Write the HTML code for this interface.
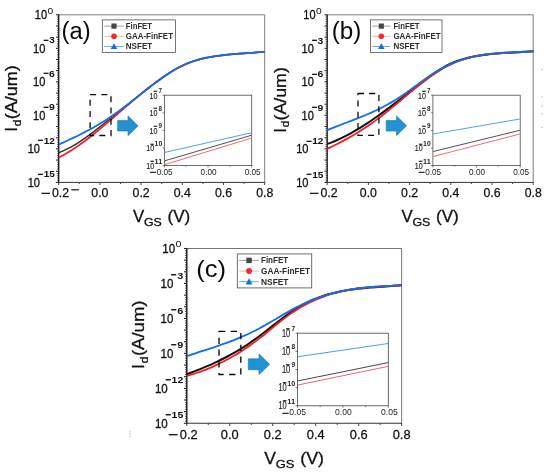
<!DOCTYPE html>
<html><head><meta charset="utf-8"><title>Id-Vgs transfer curves</title>
<style>html,body{margin:0;padding:0;background:#fff}svg{display:block}</style></head>
<body>
<svg width="550" height="474" viewBox="0 0 550 474">
<rect width="550" height="474" fill="#fff"/>
<g transform="translate(58.7,14.8) scale(1.0)" font-family='"Liberation Sans", sans-serif' fill="#111">
<line x1="-2.7" y1="0.00" x2="0" y2="0.00" stroke="#222" stroke-width="1.05"/>
<line x1="-1.7" y1="2.23" x2="0" y2="2.23" stroke="#333" stroke-width="0.8"/>
<line x1="-1.7" y1="4.47" x2="0" y2="4.47" stroke="#333" stroke-width="0.8"/>
<line x1="-1.7" y1="6.70" x2="0" y2="6.70" stroke="#333" stroke-width="0.8"/>
<line x1="-1.7" y1="8.94" x2="0" y2="8.94" stroke="#333" stroke-width="0.8"/>
<line x1="-2.7" y1="11.17" x2="0" y2="11.17" stroke="#222" stroke-width="1.05"/>
<line x1="-1.7" y1="13.41" x2="0" y2="13.41" stroke="#333" stroke-width="0.8"/>
<line x1="-1.7" y1="15.64" x2="0" y2="15.64" stroke="#333" stroke-width="0.8"/>
<line x1="-1.7" y1="17.88" x2="0" y2="17.88" stroke="#333" stroke-width="0.8"/>
<line x1="-1.7" y1="20.11" x2="0" y2="20.11" stroke="#333" stroke-width="0.8"/>
<line x1="-2.7" y1="22.35" x2="0" y2="22.35" stroke="#222" stroke-width="1.05"/>
<line x1="-1.7" y1="24.58" x2="0" y2="24.58" stroke="#333" stroke-width="0.8"/>
<line x1="-1.7" y1="26.82" x2="0" y2="26.82" stroke="#333" stroke-width="0.8"/>
<line x1="-1.7" y1="29.05" x2="0" y2="29.05" stroke="#333" stroke-width="0.8"/>
<line x1="-1.7" y1="31.29" x2="0" y2="31.29" stroke="#333" stroke-width="0.8"/>
<line x1="-2.7" y1="33.52" x2="0" y2="33.52" stroke="#222" stroke-width="1.05"/>
<line x1="-1.7" y1="35.75" x2="0" y2="35.75" stroke="#333" stroke-width="0.8"/>
<line x1="-1.7" y1="37.99" x2="0" y2="37.99" stroke="#333" stroke-width="0.8"/>
<line x1="-1.7" y1="40.22" x2="0" y2="40.22" stroke="#333" stroke-width="0.8"/>
<line x1="-1.7" y1="42.46" x2="0" y2="42.46" stroke="#333" stroke-width="0.8"/>
<line x1="-2.7" y1="44.69" x2="0" y2="44.69" stroke="#222" stroke-width="1.05"/>
<line x1="-1.7" y1="46.93" x2="0" y2="46.93" stroke="#333" stroke-width="0.8"/>
<line x1="-1.7" y1="49.16" x2="0" y2="49.16" stroke="#333" stroke-width="0.8"/>
<line x1="-1.7" y1="51.40" x2="0" y2="51.40" stroke="#333" stroke-width="0.8"/>
<line x1="-1.7" y1="53.63" x2="0" y2="53.63" stroke="#333" stroke-width="0.8"/>
<line x1="-2.7" y1="55.87" x2="0" y2="55.87" stroke="#222" stroke-width="1.05"/>
<line x1="-1.7" y1="58.10" x2="0" y2="58.10" stroke="#333" stroke-width="0.8"/>
<line x1="-1.7" y1="60.34" x2="0" y2="60.34" stroke="#333" stroke-width="0.8"/>
<line x1="-1.7" y1="62.57" x2="0" y2="62.57" stroke="#333" stroke-width="0.8"/>
<line x1="-1.7" y1="64.81" x2="0" y2="64.81" stroke="#333" stroke-width="0.8"/>
<line x1="-2.7" y1="67.04" x2="0" y2="67.04" stroke="#222" stroke-width="1.05"/>
<line x1="-1.7" y1="69.27" x2="0" y2="69.27" stroke="#333" stroke-width="0.8"/>
<line x1="-1.7" y1="71.51" x2="0" y2="71.51" stroke="#333" stroke-width="0.8"/>
<line x1="-1.7" y1="73.74" x2="0" y2="73.74" stroke="#333" stroke-width="0.8"/>
<line x1="-1.7" y1="75.98" x2="0" y2="75.98" stroke="#333" stroke-width="0.8"/>
<line x1="-2.7" y1="78.21" x2="0" y2="78.21" stroke="#222" stroke-width="1.05"/>
<line x1="-1.7" y1="80.45" x2="0" y2="80.45" stroke="#333" stroke-width="0.8"/>
<line x1="-1.7" y1="82.68" x2="0" y2="82.68" stroke="#333" stroke-width="0.8"/>
<line x1="-1.7" y1="84.92" x2="0" y2="84.92" stroke="#333" stroke-width="0.8"/>
<line x1="-1.7" y1="87.15" x2="0" y2="87.15" stroke="#333" stroke-width="0.8"/>
<line x1="-2.7" y1="89.39" x2="0" y2="89.39" stroke="#222" stroke-width="1.05"/>
<line x1="-1.7" y1="91.62" x2="0" y2="91.62" stroke="#333" stroke-width="0.8"/>
<line x1="-1.7" y1="93.86" x2="0" y2="93.86" stroke="#333" stroke-width="0.8"/>
<line x1="-1.7" y1="96.09" x2="0" y2="96.09" stroke="#333" stroke-width="0.8"/>
<line x1="-1.7" y1="98.33" x2="0" y2="98.33" stroke="#333" stroke-width="0.8"/>
<line x1="-2.7" y1="100.56" x2="0" y2="100.56" stroke="#222" stroke-width="1.05"/>
<line x1="-1.7" y1="102.79" x2="0" y2="102.79" stroke="#333" stroke-width="0.8"/>
<line x1="-1.7" y1="105.03" x2="0" y2="105.03" stroke="#333" stroke-width="0.8"/>
<line x1="-1.7" y1="107.26" x2="0" y2="107.26" stroke="#333" stroke-width="0.8"/>
<line x1="-1.7" y1="109.50" x2="0" y2="109.50" stroke="#333" stroke-width="0.8"/>
<line x1="-2.7" y1="111.73" x2="0" y2="111.73" stroke="#222" stroke-width="1.05"/>
<line x1="-1.7" y1="113.97" x2="0" y2="113.97" stroke="#333" stroke-width="0.8"/>
<line x1="-1.7" y1="116.20" x2="0" y2="116.20" stroke="#333" stroke-width="0.8"/>
<line x1="-1.7" y1="118.44" x2="0" y2="118.44" stroke="#333" stroke-width="0.8"/>
<line x1="-1.7" y1="120.67" x2="0" y2="120.67" stroke="#333" stroke-width="0.8"/>
<line x1="-2.7" y1="122.91" x2="0" y2="122.91" stroke="#222" stroke-width="1.05"/>
<line x1="-1.7" y1="125.14" x2="0" y2="125.14" stroke="#333" stroke-width="0.8"/>
<line x1="-1.7" y1="127.38" x2="0" y2="127.38" stroke="#333" stroke-width="0.8"/>
<line x1="-1.7" y1="129.61" x2="0" y2="129.61" stroke="#333" stroke-width="0.8"/>
<line x1="-1.7" y1="131.85" x2="0" y2="131.85" stroke="#333" stroke-width="0.8"/>
<line x1="-2.7" y1="134.08" x2="0" y2="134.08" stroke="#222" stroke-width="1.05"/>
<line x1="-1.7" y1="136.31" x2="0" y2="136.31" stroke="#333" stroke-width="0.8"/>
<line x1="-1.7" y1="138.55" x2="0" y2="138.55" stroke="#333" stroke-width="0.8"/>
<line x1="-1.7" y1="140.78" x2="0" y2="140.78" stroke="#333" stroke-width="0.8"/>
<line x1="-1.7" y1="143.02" x2="0" y2="143.02" stroke="#333" stroke-width="0.8"/>
<line x1="-2.7" y1="145.25" x2="0" y2="145.25" stroke="#222" stroke-width="1.05"/>
<line x1="-1.7" y1="147.49" x2="0" y2="147.49" stroke="#333" stroke-width="0.8"/>
<line x1="-1.7" y1="149.72" x2="0" y2="149.72" stroke="#333" stroke-width="0.8"/>
<line x1="-1.7" y1="151.96" x2="0" y2="151.96" stroke="#333" stroke-width="0.8"/>
<line x1="-1.7" y1="154.19" x2="0" y2="154.19" stroke="#333" stroke-width="0.8"/>
<line x1="-2.7" y1="156.43" x2="0" y2="156.43" stroke="#222" stroke-width="1.05"/>
<line x1="-1.7" y1="158.66" x2="0" y2="158.66" stroke="#333" stroke-width="0.8"/>
<line x1="-1.7" y1="160.90" x2="0" y2="160.90" stroke="#333" stroke-width="0.8"/>
<line x1="-1.7" y1="163.13" x2="0" y2="163.13" stroke="#333" stroke-width="0.8"/>
<line x1="-1.7" y1="165.37" x2="0" y2="165.37" stroke="#333" stroke-width="0.8"/>
<line x1="-2.7" y1="167.60" x2="0" y2="167.60" stroke="#222" stroke-width="1.05"/>
<line x1="0.00" y1="167.6" x2="0.00" y2="170.2" stroke="#333" stroke-width="0.9"/>
<line x1="20.60" y1="167.6" x2="20.60" y2="169.2" stroke="#333" stroke-width="0.9"/>
<line x1="41.20" y1="167.6" x2="41.20" y2="170.2" stroke="#333" stroke-width="0.9"/>
<line x1="61.80" y1="167.6" x2="61.80" y2="169.2" stroke="#333" stroke-width="0.9"/>
<line x1="82.40" y1="167.6" x2="82.40" y2="170.2" stroke="#333" stroke-width="0.9"/>
<line x1="103.00" y1="167.6" x2="103.00" y2="169.2" stroke="#333" stroke-width="0.9"/>
<line x1="123.60" y1="167.6" x2="123.60" y2="170.2" stroke="#333" stroke-width="0.9"/>
<line x1="144.20" y1="167.6" x2="144.20" y2="169.2" stroke="#333" stroke-width="0.9"/>
<line x1="164.80" y1="167.6" x2="164.80" y2="170.2" stroke="#333" stroke-width="0.9"/>
<line x1="185.40" y1="167.6" x2="185.40" y2="169.2" stroke="#333" stroke-width="0.9"/>
<line x1="206.00" y1="167.6" x2="206.00" y2="170.2" stroke="#333" stroke-width="0.9"/>
<path d="M0 0 H206.0 V167.6" fill="none" stroke="#5a5a5a" stroke-width="0.8"/>
<path d="M0 -0.4 V168.1" fill="none" stroke="#222" stroke-width="1.4"/>
<path d="M-0.7 167.6 H206.4" fill="none" stroke="#333" stroke-width="1.0"/>
<path d="M0.00 137.92 C0.84 137.58 3.35 136.61 5.02 135.85 C6.70 135.10 8.37 134.27 10.05 133.39 C11.72 132.51 13.40 131.57 15.07 130.58 C16.75 129.59 18.42 128.55 20.10 127.47 C21.77 126.39 23.45 125.26 25.12 124.10 C26.80 122.94 28.47 121.74 30.15 120.52 C31.82 119.30 33.50 118.04 35.17 116.77 C36.85 115.50 38.52 114.21 40.20 112.90 C41.87 111.60 43.54 110.28 45.22 108.96 C46.89 107.64 48.57 106.30 50.24 104.97 C51.92 103.63 53.59 102.28 55.27 100.94 C56.94 99.59 58.62 98.24 60.29 96.88 C61.97 95.53 63.64 94.17 65.32 92.82 C66.99 91.46 68.67 90.11 70.34 88.76 C72.02 87.41 73.69 86.05 75.37 84.71 C77.04 83.37 78.72 82.03 80.39 80.70 C82.07 79.37 83.74 78.04 85.41 76.72 C87.09 75.41 88.76 74.10 90.44 72.81 C92.11 71.52 93.79 70.23 95.46 68.96 C97.14 67.70 98.81 66.45 100.49 65.23 C102.16 64.01 103.84 62.81 105.51 61.65 C107.19 60.49 108.86 59.35 110.54 58.27 C112.21 57.19 113.89 56.14 115.56 55.15 C117.24 54.16 118.91 53.21 120.59 52.33 C122.26 51.45 123.93 50.62 125.61 49.87 C127.28 49.11 128.96 48.42 130.63 47.79 C132.31 47.17 133.98 46.61 135.66 46.09 C137.33 45.58 139.01 45.12 140.68 44.70 C142.36 44.28 144.03 43.90 145.71 43.55 C147.38 43.20 149.06 42.88 150.73 42.58 C152.41 42.28 154.08 42.00 155.76 41.73 C157.43 41.47 159.11 41.22 160.78 40.99 C162.46 40.76 164.13 40.54 165.80 40.34 C167.48 40.13 169.15 39.94 170.83 39.76 C172.50 39.59 174.18 39.42 175.85 39.26 C177.53 39.10 179.20 38.96 180.88 38.81 C182.55 38.67 184.23 38.54 185.90 38.41 C187.58 38.29 189.25 38.17 190.93 38.05 C192.60 37.93 194.28 37.82 195.95 37.70 C197.63 37.59 199.30 37.48 200.98 37.37 C202.65 37.26 205.16 37.10 206.00 37.04" fill="none" stroke="#333" stroke-width="1.5" stroke-linecap="butt"/>
<path d="M0.00 142.80 C0.84 142.35 3.35 141.07 5.02 140.14 C6.70 139.21 8.37 138.22 10.05 137.20 C11.72 136.18 13.40 135.11 15.07 134.01 C16.75 132.91 18.42 131.77 20.10 130.59 C21.77 129.42 23.45 128.21 25.12 126.97 C26.80 125.73 28.47 124.46 30.15 123.16 C31.82 121.87 33.50 120.54 35.17 119.20 C36.85 117.86 38.52 116.49 40.20 115.11 C41.87 113.73 43.54 112.32 45.22 110.91 C46.89 109.50 48.57 108.07 50.24 106.63 C51.92 105.19 53.59 103.74 55.27 102.29 C56.94 100.84 58.62 99.38 60.29 97.92 C61.97 96.47 63.64 95.00 65.32 93.55 C66.99 92.09 68.67 90.63 70.34 89.19 C72.02 87.74 73.69 86.30 75.37 84.87 C77.04 83.44 78.72 82.02 80.39 80.62 C82.07 79.21 83.74 77.82 85.41 76.46 C87.09 75.09 88.76 73.74 90.44 72.42 C92.11 71.09 93.79 69.79 95.46 68.53 C97.14 67.26 98.81 66.02 100.49 64.82 C102.16 63.62 103.84 62.45 105.51 61.33 C107.19 60.21 108.86 59.12 110.54 58.08 C112.21 57.05 113.89 56.05 115.56 55.11 C117.24 54.17 118.91 53.28 120.59 52.44 C122.26 51.60 123.93 50.81 125.61 50.07 C127.28 49.32 128.96 48.63 130.63 47.98 C132.31 47.33 133.98 46.73 135.66 46.17 C137.33 45.61 139.01 45.10 140.68 44.63 C142.36 44.16 144.03 43.73 145.71 43.33 C147.38 42.94 149.06 42.59 150.73 42.26 C152.41 41.94 154.08 41.65 155.76 41.39 C157.43 41.13 159.11 40.90 160.78 40.68 C162.46 40.47 164.13 40.28 165.80 40.11 C167.48 39.94 169.15 39.79 170.83 39.65 C172.50 39.51 174.18 39.38 175.85 39.26 C177.53 39.14 179.20 39.03 180.88 38.92 C182.55 38.82 184.23 38.71 185.90 38.61 C187.58 38.50 189.25 38.39 190.93 38.28 C192.60 38.16 194.28 38.05 195.95 37.91 C197.63 37.78 199.30 37.64 200.98 37.47 C202.65 37.31 205.16 37.03 206.00 36.94" fill="none" stroke="#f01f24" stroke-width="1.7" stroke-linecap="butt"/>
<path d="M0.00 129.77 C0.84 129.39 3.35 128.27 5.02 127.51 C6.70 126.75 8.37 125.99 10.05 125.21 C11.72 124.43 13.40 123.64 15.07 122.83 C16.75 122.03 18.42 121.22 20.10 120.38 C21.77 119.55 23.45 118.70 25.12 117.84 C26.80 116.97 28.47 116.09 30.15 115.18 C31.82 114.28 33.50 113.35 35.17 112.40 C36.85 111.45 38.52 110.48 40.20 109.48 C41.87 108.48 43.54 107.46 45.22 106.41 C46.89 105.35 48.57 104.28 50.24 103.16 C51.92 102.05 53.59 100.91 55.27 99.74 C56.94 98.57 58.62 97.37 60.29 96.15 C61.97 94.93 63.64 93.68 65.32 92.42 C66.99 91.16 68.67 89.88 70.34 88.59 C72.02 87.30 73.69 86.00 75.37 84.69 C77.04 83.39 78.72 82.07 80.39 80.76 C82.07 79.45 83.74 78.13 85.41 76.82 C87.09 75.52 88.76 74.21 90.44 72.92 C92.11 71.63 93.79 70.35 95.46 69.09 C97.14 67.83 98.81 66.58 100.49 65.36 C102.16 64.14 103.84 62.94 105.51 61.79 C107.19 60.63 108.86 59.50 110.54 58.41 C112.21 57.33 113.89 56.28 115.56 55.28 C117.24 54.29 118.91 53.34 120.59 52.45 C122.26 51.56 123.93 50.72 125.61 49.95 C127.28 49.18 128.96 48.48 130.63 47.83 C132.31 47.18 133.98 46.61 135.66 46.07 C137.33 45.53 139.01 45.06 140.68 44.62 C142.36 44.18 144.03 43.78 145.71 43.42 C147.38 43.05 149.06 42.73 150.73 42.42 C152.41 42.12 154.08 41.84 155.76 41.58 C157.43 41.32 159.11 41.09 160.78 40.87 C162.46 40.65 164.13 40.45 165.80 40.26 C167.48 40.07 169.15 39.91 170.83 39.74 C172.50 39.58 174.18 39.44 175.85 39.30 C177.53 39.16 179.20 39.03 180.88 38.90 C182.55 38.77 184.23 38.65 185.90 38.53 C187.58 38.41 189.25 38.30 190.93 38.18 C192.60 38.06 194.28 37.94 195.95 37.81 C197.63 37.68 199.30 37.55 200.98 37.41 C202.65 37.27 205.16 37.04 206.00 36.97" fill="none" stroke="#0f6fe6" stroke-width="1.8" stroke-linecap="butt"/>
<rect x="31.4" y="79.8" width="20.9" height="40.9" fill="none" stroke="#0a0a0a" stroke-width="1.3" stroke-dasharray="6 5.25" stroke-dashoffset="0"/>
<path d="M59.0 105.8 H69.3 V101.1 L79.4 111.0 L69.3 120.9 V116.2 H59.0 Z" fill="#2492d1" stroke="#1c7fba" stroke-width="0.7"/>
<rect x="105.7" y="80.4" width="87.30" height="70.40" fill="#fff" stroke="#4a4a4a" stroke-width="0.8"/>
<line x1="103.9" y1="80.40" x2="105.7" y2="80.40" stroke="#444" stroke-width="0.7"/>
<text x="90.80" y="83.80" font-size="9.6" textLength="7.9" lengthAdjust="spacingAndGlyphs" fill="#1a1a1a" stroke="#1a1a1a" stroke-width="0.15">10</text>
<text x="95.03" y="78.06" font-size="5.86" fill="#1a1a1a" stroke="#1a1a1a" stroke-width="0.64">−</text>
<text x="99.90" y="78.40" font-size="7.6" font-weight="bold" textLength="3.5" lengthAdjust="spacingAndGlyphs" fill="#222">7</text>
<line x1="103.9" y1="98.00" x2="105.7" y2="98.00" stroke="#444" stroke-width="0.7"/>
<text x="90.80" y="101.40" font-size="9.6" textLength="7.9" lengthAdjust="spacingAndGlyphs" fill="#1a1a1a" stroke="#1a1a1a" stroke-width="0.15">10</text>
<text x="95.03" y="95.66" font-size="5.86" fill="#1a1a1a" stroke="#1a1a1a" stroke-width="0.64">−</text>
<text x="99.90" y="96.00" font-size="7.6" font-weight="bold" textLength="3.5" lengthAdjust="spacingAndGlyphs" fill="#222">8</text>
<line x1="103.9" y1="115.60" x2="105.7" y2="115.60" stroke="#444" stroke-width="0.7"/>
<text x="90.80" y="119.00" font-size="9.6" textLength="7.9" lengthAdjust="spacingAndGlyphs" fill="#1a1a1a" stroke="#1a1a1a" stroke-width="0.15">10</text>
<text x="95.03" y="113.26" font-size="5.86" fill="#1a1a1a" stroke="#1a1a1a" stroke-width="0.64">−</text>
<text x="99.90" y="113.60" font-size="7.6" font-weight="bold" textLength="3.5" lengthAdjust="spacingAndGlyphs" fill="#222">9</text>
<line x1="103.9" y1="133.20" x2="105.7" y2="133.20" stroke="#444" stroke-width="0.7"/>
<text x="87.50" y="136.60" font-size="9.6" textLength="7.9" lengthAdjust="spacingAndGlyphs" fill="#1a1a1a" stroke="#1a1a1a" stroke-width="0.15">10</text>
<text x="91.73" y="130.86" font-size="5.86" fill="#1a1a1a" stroke="#1a1a1a" stroke-width="0.64">−</text>
<text x="95.90" y="131.20" font-size="7.6" font-weight="bold" textLength="7.6" lengthAdjust="spacingAndGlyphs" fill="#222">10</text>
<line x1="103.9" y1="150.80" x2="105.7" y2="150.80" stroke="#444" stroke-width="0.7"/>
<text x="87.50" y="154.20" font-size="9.6" textLength="7.9" lengthAdjust="spacingAndGlyphs" fill="#1a1a1a" stroke="#1a1a1a" stroke-width="0.15">10</text>
<text x="91.73" y="148.46" font-size="5.86" fill="#1a1a1a" stroke="#1a1a1a" stroke-width="0.64">−</text>
<text x="95.90" y="148.80" font-size="7.6" font-weight="bold" textLength="7.6" lengthAdjust="spacingAndGlyphs" fill="#222">11</text>
<line x1="105.70" y1="150.8" x2="105.70" y2="152.60000000000002" stroke="#444" stroke-width="0.7"/>
<line x1="127.53" y1="150.8" x2="127.53" y2="151.9" stroke="#444" stroke-width="0.7"/>
<line x1="149.35" y1="150.8" x2="149.35" y2="152.60000000000002" stroke="#444" stroke-width="0.7"/>
<line x1="171.18" y1="150.8" x2="171.18" y2="151.9" stroke="#444" stroke-width="0.7"/>
<line x1="193.00" y1="150.8" x2="193.00" y2="152.60000000000002" stroke="#444" stroke-width="0.7"/>
<text x="113.90" y="159.80" font-size="8.2" text-anchor="end" fill="#222">0.05</text>
<text x="91.13" y="161.21" font-size="10.77" fill="#222" stroke="#222" stroke-width="0.55">−</text>
<text x="149.85" y="159.80" font-size="8.2" text-anchor="middle" fill="#222">0.00</text>
<text x="194.00" y="159.80" font-size="8.2" text-anchor="middle" fill="#222">0.05</text>
<line x1="106.0" y1="149.80" x2="192.7" y2="123.30" stroke="#f05a5a" stroke-width="0.9"/>
<line x1="106.0" y1="146.00" x2="192.7" y2="120.50" stroke="#3c3c3c" stroke-width="0.9"/>
<line x1="106.0" y1="137.60" x2="192.7" y2="118.00" stroke="#3a97f0" stroke-width="0.9"/>
<rect x="43.6" y="5.1" width="73.3" height="32.6" fill="#fff" stroke="#3a3a3a" stroke-width="0.7"/>
<line x1="45.50" y1="11.30" x2="65.10" y2="11.30" stroke="#8a8a8a" stroke-width="0.8"/>
<rect x="52.70" y="8.70" width="5.2" height="5.2" fill="#464646"/>
<text x="67.10" y="14.20" font-size="8.2" font-weight="bold" fill="#2c2c2c" textLength="26.2" lengthAdjust="spacingAndGlyphs">FinFET</text>
<line x1="45.50" y1="21.50" x2="65.10" y2="21.50" stroke="#f59a9a" stroke-width="0.8"/>
<circle cx="55.30" cy="21.50" r="2.8" fill="#f5282d"/>
<text x="67.10" y="24.40" font-size="8.2" font-weight="bold" fill="#2c2c2c" textLength="47.2" lengthAdjust="spacingAndGlyphs">GAA-FinFET</text>
<line x1="45.50" y1="31.70" x2="65.10" y2="31.70" stroke="#3f9cf2" stroke-width="0.8"/>
<path d="M52.00 34.30 L58.60 34.30 L55.30 28.40 Z" fill="#126fe3"/>
<text x="67.10" y="34.60" font-size="8.2" font-weight="bold" fill="#2c2c2c" textLength="26.4" lengthAdjust="spacingAndGlyphs">NSFET</text>
<text x="2.9" y="24.0" font-size="23.3" textLength="29.0" lengthAdjust="spacingAndGlyphs" font-family='"Liberation Sans", sans-serif' fill="#0a0a0a">(a)</text>
<text x="-11.30" y="-1.10" font-size="8.4" textLength="5.7" lengthAdjust="spacingAndGlyphs">0</text>
<text x="-11.60" y="4.20" font-size="12.1" textLength="12.3" lengthAdjust="spacingAndGlyphs" text-anchor="end" stroke="#111" stroke-width="0.3">10</text>
<text x="-9.60" y="28.22" font-size="8.9" font-weight="bold" textLength="5.80" lengthAdjust="spacingAndGlyphs">3</text>
<text x="-15.52" y="27.89" font-size="8.75" fill="#111" stroke="#111" stroke-width="0.64">−</text>
<text x="-13.30" y="37.72" font-size="12.1" textLength="12.3" lengthAdjust="spacingAndGlyphs" text-anchor="end" stroke="#111" stroke-width="0.3">10</text>
<text x="-9.60" y="61.74" font-size="8.9" font-weight="bold" textLength="5.80" lengthAdjust="spacingAndGlyphs">6</text>
<text x="-15.52" y="61.41" font-size="8.75" fill="#111" stroke="#111" stroke-width="0.64">−</text>
<text x="-13.30" y="71.24" font-size="12.1" textLength="12.3" lengthAdjust="spacingAndGlyphs" text-anchor="end" stroke="#111" stroke-width="0.3">10</text>
<text x="-9.60" y="95.26" font-size="8.9" font-weight="bold" textLength="5.80" lengthAdjust="spacingAndGlyphs">9</text>
<text x="-15.52" y="94.93" font-size="8.75" fill="#111" stroke="#111" stroke-width="0.64">−</text>
<text x="-13.30" y="104.76" font-size="12.1" textLength="12.3" lengthAdjust="spacingAndGlyphs" text-anchor="end" stroke="#111" stroke-width="0.3">10</text>
<text x="-15.00" y="128.78" font-size="8.9" font-weight="bold" textLength="11.20" lengthAdjust="spacingAndGlyphs">12</text>
<text x="-20.92" y="128.45" font-size="8.75" fill="#111" stroke="#111" stroke-width="0.64">−</text>
<text x="-18.70" y="138.28" font-size="12.1" textLength="12.3" lengthAdjust="spacingAndGlyphs" text-anchor="end" stroke="#111" stroke-width="0.3">10</text>
<text x="-15.00" y="162.30" font-size="8.9" font-weight="bold" textLength="11.20" lengthAdjust="spacingAndGlyphs">15</text>
<text x="-20.92" y="161.97" font-size="8.75" fill="#111" stroke="#111" stroke-width="0.64">−</text>
<text x="-18.70" y="171.80" font-size="12.1" textLength="12.3" lengthAdjust="spacingAndGlyphs" text-anchor="end" stroke="#111" stroke-width="0.3">10</text>
<text x="10.40" y="182.50" font-size="12.3" text-anchor="end" stroke="#111" stroke-width="0.25">0.2</text>
<text x="-18.29" y="184.44" font-size="17.73" fill="#111">−</text>
<line x1="12.60" y1="175.00" x2="20.20" y2="175.00" stroke="#111" stroke-width="1.15"/>
<text x="41.20" y="182.50" font-size="12.3" text-anchor="middle" stroke="#111" stroke-width="0.25">0.0</text>
<text x="82.40" y="182.50" font-size="12.3" text-anchor="middle" stroke="#111" stroke-width="0.25">0.2</text>
<text x="123.60" y="182.50" font-size="12.3" text-anchor="middle" stroke="#111" stroke-width="0.25">0.4</text>
<text x="164.80" y="182.50" font-size="12.3" text-anchor="middle" stroke="#111" stroke-width="0.25">0.6</text>
<text x="206.00" y="182.50" font-size="12.3" text-anchor="middle" stroke="#111" stroke-width="0.25">0.8</text>
<text x="74.2" y="207.20" stroke="#111" stroke-width="0.3" font-size="16.4" textLength="11.2" lengthAdjust="spacingAndGlyphs">V</text>
<text x="85.2" y="211.40" stroke="#111" stroke-width="0.3" font-size="11" textLength="17.9" lengthAdjust="spacingAndGlyphs">GS</text>
<text x="108.8" y="207.20" stroke="#111" stroke-width="0.3" font-size="16.4" textLength="22.8" lengthAdjust="spacingAndGlyphs">(V)</text>
<g transform="translate(-41.4,116.8) rotate(-90) scale(0.99)" stroke="#111" stroke-width="0.3"><text x="0" y="0" font-size="17" textLength="4.4" lengthAdjust="spacingAndGlyphs">I</text><text x="5.4" y="3.6" font-size="10.6" textLength="6.6" lengthAdjust="spacingAndGlyphs">d</text><text x="12.4" y="0" font-size="17" textLength="54.6" lengthAdjust="spacingAndGlyphs">(A/um)</text></g>
</g>
<g transform="translate(327.2,14.8) scale(1.0)" font-family='"Liberation Sans", sans-serif' fill="#111">
<line x1="-2.7" y1="0.00" x2="0" y2="0.00" stroke="#222" stroke-width="1.05"/>
<line x1="-1.7" y1="2.23" x2="0" y2="2.23" stroke="#333" stroke-width="0.8"/>
<line x1="-1.7" y1="4.47" x2="0" y2="4.47" stroke="#333" stroke-width="0.8"/>
<line x1="-1.7" y1="6.70" x2="0" y2="6.70" stroke="#333" stroke-width="0.8"/>
<line x1="-1.7" y1="8.94" x2="0" y2="8.94" stroke="#333" stroke-width="0.8"/>
<line x1="-2.7" y1="11.17" x2="0" y2="11.17" stroke="#222" stroke-width="1.05"/>
<line x1="-1.7" y1="13.41" x2="0" y2="13.41" stroke="#333" stroke-width="0.8"/>
<line x1="-1.7" y1="15.64" x2="0" y2="15.64" stroke="#333" stroke-width="0.8"/>
<line x1="-1.7" y1="17.88" x2="0" y2="17.88" stroke="#333" stroke-width="0.8"/>
<line x1="-1.7" y1="20.11" x2="0" y2="20.11" stroke="#333" stroke-width="0.8"/>
<line x1="-2.7" y1="22.35" x2="0" y2="22.35" stroke="#222" stroke-width="1.05"/>
<line x1="-1.7" y1="24.58" x2="0" y2="24.58" stroke="#333" stroke-width="0.8"/>
<line x1="-1.7" y1="26.82" x2="0" y2="26.82" stroke="#333" stroke-width="0.8"/>
<line x1="-1.7" y1="29.05" x2="0" y2="29.05" stroke="#333" stroke-width="0.8"/>
<line x1="-1.7" y1="31.29" x2="0" y2="31.29" stroke="#333" stroke-width="0.8"/>
<line x1="-2.7" y1="33.52" x2="0" y2="33.52" stroke="#222" stroke-width="1.05"/>
<line x1="-1.7" y1="35.75" x2="0" y2="35.75" stroke="#333" stroke-width="0.8"/>
<line x1="-1.7" y1="37.99" x2="0" y2="37.99" stroke="#333" stroke-width="0.8"/>
<line x1="-1.7" y1="40.22" x2="0" y2="40.22" stroke="#333" stroke-width="0.8"/>
<line x1="-1.7" y1="42.46" x2="0" y2="42.46" stroke="#333" stroke-width="0.8"/>
<line x1="-2.7" y1="44.69" x2="0" y2="44.69" stroke="#222" stroke-width="1.05"/>
<line x1="-1.7" y1="46.93" x2="0" y2="46.93" stroke="#333" stroke-width="0.8"/>
<line x1="-1.7" y1="49.16" x2="0" y2="49.16" stroke="#333" stroke-width="0.8"/>
<line x1="-1.7" y1="51.40" x2="0" y2="51.40" stroke="#333" stroke-width="0.8"/>
<line x1="-1.7" y1="53.63" x2="0" y2="53.63" stroke="#333" stroke-width="0.8"/>
<line x1="-2.7" y1="55.87" x2="0" y2="55.87" stroke="#222" stroke-width="1.05"/>
<line x1="-1.7" y1="58.10" x2="0" y2="58.10" stroke="#333" stroke-width="0.8"/>
<line x1="-1.7" y1="60.34" x2="0" y2="60.34" stroke="#333" stroke-width="0.8"/>
<line x1="-1.7" y1="62.57" x2="0" y2="62.57" stroke="#333" stroke-width="0.8"/>
<line x1="-1.7" y1="64.81" x2="0" y2="64.81" stroke="#333" stroke-width="0.8"/>
<line x1="-2.7" y1="67.04" x2="0" y2="67.04" stroke="#222" stroke-width="1.05"/>
<line x1="-1.7" y1="69.27" x2="0" y2="69.27" stroke="#333" stroke-width="0.8"/>
<line x1="-1.7" y1="71.51" x2="0" y2="71.51" stroke="#333" stroke-width="0.8"/>
<line x1="-1.7" y1="73.74" x2="0" y2="73.74" stroke="#333" stroke-width="0.8"/>
<line x1="-1.7" y1="75.98" x2="0" y2="75.98" stroke="#333" stroke-width="0.8"/>
<line x1="-2.7" y1="78.21" x2="0" y2="78.21" stroke="#222" stroke-width="1.05"/>
<line x1="-1.7" y1="80.45" x2="0" y2="80.45" stroke="#333" stroke-width="0.8"/>
<line x1="-1.7" y1="82.68" x2="0" y2="82.68" stroke="#333" stroke-width="0.8"/>
<line x1="-1.7" y1="84.92" x2="0" y2="84.92" stroke="#333" stroke-width="0.8"/>
<line x1="-1.7" y1="87.15" x2="0" y2="87.15" stroke="#333" stroke-width="0.8"/>
<line x1="-2.7" y1="89.39" x2="0" y2="89.39" stroke="#222" stroke-width="1.05"/>
<line x1="-1.7" y1="91.62" x2="0" y2="91.62" stroke="#333" stroke-width="0.8"/>
<line x1="-1.7" y1="93.86" x2="0" y2="93.86" stroke="#333" stroke-width="0.8"/>
<line x1="-1.7" y1="96.09" x2="0" y2="96.09" stroke="#333" stroke-width="0.8"/>
<line x1="-1.7" y1="98.33" x2="0" y2="98.33" stroke="#333" stroke-width="0.8"/>
<line x1="-2.7" y1="100.56" x2="0" y2="100.56" stroke="#222" stroke-width="1.05"/>
<line x1="-1.7" y1="102.79" x2="0" y2="102.79" stroke="#333" stroke-width="0.8"/>
<line x1="-1.7" y1="105.03" x2="0" y2="105.03" stroke="#333" stroke-width="0.8"/>
<line x1="-1.7" y1="107.26" x2="0" y2="107.26" stroke="#333" stroke-width="0.8"/>
<line x1="-1.7" y1="109.50" x2="0" y2="109.50" stroke="#333" stroke-width="0.8"/>
<line x1="-2.7" y1="111.73" x2="0" y2="111.73" stroke="#222" stroke-width="1.05"/>
<line x1="-1.7" y1="113.97" x2="0" y2="113.97" stroke="#333" stroke-width="0.8"/>
<line x1="-1.7" y1="116.20" x2="0" y2="116.20" stroke="#333" stroke-width="0.8"/>
<line x1="-1.7" y1="118.44" x2="0" y2="118.44" stroke="#333" stroke-width="0.8"/>
<line x1="-1.7" y1="120.67" x2="0" y2="120.67" stroke="#333" stroke-width="0.8"/>
<line x1="-2.7" y1="122.91" x2="0" y2="122.91" stroke="#222" stroke-width="1.05"/>
<line x1="-1.7" y1="125.14" x2="0" y2="125.14" stroke="#333" stroke-width="0.8"/>
<line x1="-1.7" y1="127.38" x2="0" y2="127.38" stroke="#333" stroke-width="0.8"/>
<line x1="-1.7" y1="129.61" x2="0" y2="129.61" stroke="#333" stroke-width="0.8"/>
<line x1="-1.7" y1="131.85" x2="0" y2="131.85" stroke="#333" stroke-width="0.8"/>
<line x1="-2.7" y1="134.08" x2="0" y2="134.08" stroke="#222" stroke-width="1.05"/>
<line x1="-1.7" y1="136.31" x2="0" y2="136.31" stroke="#333" stroke-width="0.8"/>
<line x1="-1.7" y1="138.55" x2="0" y2="138.55" stroke="#333" stroke-width="0.8"/>
<line x1="-1.7" y1="140.78" x2="0" y2="140.78" stroke="#333" stroke-width="0.8"/>
<line x1="-1.7" y1="143.02" x2="0" y2="143.02" stroke="#333" stroke-width="0.8"/>
<line x1="-2.7" y1="145.25" x2="0" y2="145.25" stroke="#222" stroke-width="1.05"/>
<line x1="-1.7" y1="147.49" x2="0" y2="147.49" stroke="#333" stroke-width="0.8"/>
<line x1="-1.7" y1="149.72" x2="0" y2="149.72" stroke="#333" stroke-width="0.8"/>
<line x1="-1.7" y1="151.96" x2="0" y2="151.96" stroke="#333" stroke-width="0.8"/>
<line x1="-1.7" y1="154.19" x2="0" y2="154.19" stroke="#333" stroke-width="0.8"/>
<line x1="-2.7" y1="156.43" x2="0" y2="156.43" stroke="#222" stroke-width="1.05"/>
<line x1="-1.7" y1="158.66" x2="0" y2="158.66" stroke="#333" stroke-width="0.8"/>
<line x1="-1.7" y1="160.90" x2="0" y2="160.90" stroke="#333" stroke-width="0.8"/>
<line x1="-1.7" y1="163.13" x2="0" y2="163.13" stroke="#333" stroke-width="0.8"/>
<line x1="-1.7" y1="165.37" x2="0" y2="165.37" stroke="#333" stroke-width="0.8"/>
<line x1="-2.7" y1="167.60" x2="0" y2="167.60" stroke="#222" stroke-width="1.05"/>
<line x1="0.00" y1="167.6" x2="0.00" y2="170.2" stroke="#333" stroke-width="0.9"/>
<line x1="20.60" y1="167.6" x2="20.60" y2="169.2" stroke="#333" stroke-width="0.9"/>
<line x1="41.20" y1="167.6" x2="41.20" y2="170.2" stroke="#333" stroke-width="0.9"/>
<line x1="61.80" y1="167.6" x2="61.80" y2="169.2" stroke="#333" stroke-width="0.9"/>
<line x1="82.40" y1="167.6" x2="82.40" y2="170.2" stroke="#333" stroke-width="0.9"/>
<line x1="103.00" y1="167.6" x2="103.00" y2="169.2" stroke="#333" stroke-width="0.9"/>
<line x1="123.60" y1="167.6" x2="123.60" y2="170.2" stroke="#333" stroke-width="0.9"/>
<line x1="144.20" y1="167.6" x2="144.20" y2="169.2" stroke="#333" stroke-width="0.9"/>
<line x1="164.80" y1="167.6" x2="164.80" y2="170.2" stroke="#333" stroke-width="0.9"/>
<line x1="185.40" y1="167.6" x2="185.40" y2="169.2" stroke="#333" stroke-width="0.9"/>
<line x1="206.00" y1="167.6" x2="206.00" y2="170.2" stroke="#333" stroke-width="0.9"/>
<path d="M0 0 H206.0 V167.6" fill="none" stroke="#5a5a5a" stroke-width="0.8"/>
<path d="M0 -0.4 V168.1" fill="none" stroke="#222" stroke-width="1.4"/>
<path d="M-0.7 167.6 H206.4" fill="none" stroke="#333" stroke-width="1.0"/>
<path d="M0.00 129.17 C0.84 128.86 3.35 127.96 5.03 127.30 C6.71 126.64 8.38 125.93 10.06 125.19 C11.73 124.45 13.41 123.67 15.09 122.86 C16.76 122.04 18.44 121.19 20.12 120.31 C21.79 119.43 23.47 118.51 25.15 117.56 C26.82 116.62 28.50 115.64 30.18 114.64 C31.85 113.63 33.53 112.60 35.20 111.54 C36.88 110.49 38.56 109.40 40.23 108.30 C41.91 107.20 43.59 106.07 45.26 104.92 C46.94 103.78 48.62 102.61 50.29 101.42 C51.97 100.24 53.65 99.04 55.32 97.82 C57.00 96.60 58.67 95.37 60.35 94.13 C62.03 92.88 63.70 91.63 65.38 90.36 C67.06 89.10 68.73 87.82 70.41 86.54 C72.09 85.25 73.76 83.96 75.44 82.67 C77.12 81.37 78.79 80.07 80.47 78.77 C82.14 77.47 83.82 76.16 85.50 74.86 C87.17 73.56 88.85 72.25 90.53 70.95 C92.20 69.65 93.88 68.35 95.56 67.06 C97.23 65.78 98.91 64.49 100.59 63.24 C102.26 61.99 103.94 60.76 105.61 59.57 C107.29 58.38 108.97 57.21 110.64 56.11 C112.32 55.00 114.00 53.94 115.67 52.94 C117.35 51.95 119.03 51.00 120.70 50.14 C122.38 49.29 124.06 48.50 125.73 47.79 C127.41 47.07 129.08 46.44 130.76 45.86 C132.44 45.27 134.11 44.76 135.79 44.29 C137.47 43.81 139.14 43.40 140.82 43.01 C142.50 42.61 144.17 42.27 145.85 41.94 C147.53 41.61 149.20 41.32 150.88 41.04 C152.55 40.76 154.23 40.51 155.91 40.27 C157.58 40.04 159.26 39.82 160.94 39.63 C162.61 39.43 164.29 39.25 165.97 39.08 C167.64 38.92 169.32 38.77 171.00 38.63 C172.67 38.49 174.35 38.36 176.02 38.24 C177.70 38.12 179.38 38.01 181.05 37.91 C182.73 37.81 184.41 37.71 186.08 37.62 C187.76 37.52 189.44 37.43 191.11 37.34 C192.79 37.25 194.47 37.16 196.14 37.07 C197.82 36.97 199.49 36.88 201.17 36.78 C202.85 36.68 205.36 36.52 206.20 36.46" fill="none" stroke="#141414" stroke-width="2.0" stroke-linecap="butt"/>
<path d="M0.00 134.05 C0.84 133.65 3.35 132.48 5.03 131.68 C6.71 130.87 8.38 130.04 10.06 129.19 C11.73 128.34 13.41 127.47 15.09 126.58 C16.76 125.69 18.44 124.78 20.12 123.85 C21.79 122.91 23.47 121.96 25.15 120.98 C26.82 120.00 28.50 118.99 30.18 117.96 C31.85 116.93 33.53 115.88 35.20 114.80 C36.88 113.71 38.56 112.61 40.23 111.47 C41.91 110.33 43.59 109.17 45.26 107.98 C46.94 106.78 48.62 105.56 50.29 104.31 C51.97 103.06 53.65 101.77 55.32 100.46 C57.00 99.15 58.67 97.81 60.35 96.46 C62.03 95.11 63.70 93.73 65.38 92.34 C67.06 90.96 68.73 89.56 70.41 88.16 C72.09 86.75 73.76 85.34 75.44 83.93 C77.12 82.53 78.79 81.11 80.47 79.72 C82.14 78.32 83.82 76.93 85.50 75.55 C87.17 74.18 88.85 72.81 90.53 71.48 C92.20 70.14 93.88 68.82 95.56 67.53 C97.23 66.24 98.91 64.98 100.59 63.75 C102.26 62.52 103.94 61.33 105.61 60.17 C107.29 59.02 108.97 57.90 110.64 56.83 C112.32 55.76 114.00 54.73 115.67 53.75 C117.35 52.78 119.03 51.84 120.70 50.97 C122.38 50.11 124.06 49.29 125.73 48.53 C127.41 47.77 129.08 47.07 130.76 46.42 C132.44 45.77 134.11 45.18 135.79 44.62 C137.47 44.07 139.14 43.57 140.82 43.11 C142.50 42.65 144.17 42.24 145.85 41.86 C147.53 41.48 149.20 41.15 150.88 40.84 C152.55 40.54 154.23 40.28 155.91 40.04 C157.58 39.80 159.26 39.59 160.94 39.40 C162.61 39.22 164.29 39.06 165.97 38.91 C167.64 38.77 169.32 38.65 171.00 38.53 C172.67 38.42 174.35 38.33 176.02 38.24 C177.70 38.15 179.38 38.07 181.05 37.99 C182.73 37.91 184.41 37.84 186.08 37.76 C187.76 37.68 189.44 37.61 191.11 37.52 C192.79 37.43 194.47 37.34 196.14 37.24 C197.82 37.13 199.49 37.01 201.17 36.87 C202.85 36.74 205.36 36.49 206.20 36.41" fill="none" stroke="#f01f24" stroke-width="1.8" stroke-linecap="butt"/>
<path d="M0.00 115.32 C0.84 114.98 3.35 113.95 5.03 113.28 C6.71 112.61 8.38 111.96 10.06 111.31 C11.73 110.66 13.41 110.02 15.09 109.38 C16.76 108.74 18.44 108.11 20.12 107.47 C21.79 106.83 23.47 106.20 25.15 105.55 C26.82 104.91 28.50 104.26 30.18 103.60 C31.85 102.94 33.53 102.27 35.20 101.59 C36.88 100.90 38.56 100.21 40.23 99.49 C41.91 98.77 43.59 98.04 45.26 97.28 C46.94 96.52 48.62 95.75 50.29 94.94 C51.97 94.13 53.65 93.30 55.32 92.44 C57.00 91.57 58.67 90.68 60.35 89.74 C62.03 88.81 63.70 87.85 65.38 86.84 C67.06 85.84 68.73 84.80 70.41 83.73 C72.09 82.65 73.76 81.54 75.44 80.41 C77.12 79.27 78.79 78.10 80.47 76.91 C82.14 75.72 83.82 74.49 85.50 73.27 C87.17 72.04 88.85 70.80 90.53 69.57 C92.20 68.34 93.88 67.10 95.56 65.89 C97.23 64.68 98.91 63.48 100.59 62.33 C102.26 61.17 103.94 60.03 105.61 58.95 C107.29 57.87 108.97 56.84 110.64 55.86 C112.32 54.88 114.00 53.95 115.67 53.08 C117.35 52.20 119.03 51.38 120.70 50.60 C122.38 49.82 124.06 49.09 125.73 48.40 C127.41 47.71 129.08 47.07 130.76 46.47 C132.44 45.86 134.11 45.30 135.79 44.78 C137.47 44.25 139.14 43.77 140.82 43.32 C142.50 42.87 144.17 42.45 145.85 42.07 C147.53 41.68 149.20 41.33 150.88 41.01 C152.55 40.68 154.23 40.39 155.91 40.12 C157.58 39.85 159.26 39.61 160.94 39.39 C162.61 39.16 164.29 38.97 165.97 38.79 C167.64 38.61 169.32 38.45 171.00 38.30 C172.67 38.16 174.35 38.04 176.02 37.92 C177.70 37.81 179.38 37.71 181.05 37.62 C182.73 37.53 184.41 37.45 186.08 37.37 C187.76 37.30 189.44 37.24 191.11 37.18 C192.79 37.11 194.47 37.06 196.14 37.00 C197.82 36.94 199.49 36.89 201.17 36.83 C202.85 36.78 205.36 36.68 206.20 36.65" fill="none" stroke="#0f6fe6" stroke-width="1.8" stroke-linecap="butt"/>
<rect x="30.8" y="78.7" width="20.9" height="41.8" fill="none" stroke="#0a0a0a" stroke-width="1.3" stroke-dasharray="6 5.25" stroke-dashoffset="0"/>
<path d="M59.0 105.8 H69.3 V101.1 L79.4 111.0 L69.3 120.9 V116.2 H59.0 Z" fill="#2492d1" stroke="#1c7fba" stroke-width="0.7"/>
<rect x="105.7" y="80.4" width="87.30" height="70.40" fill="#fff" stroke="#4a4a4a" stroke-width="0.8"/>
<line x1="103.9" y1="80.40" x2="105.7" y2="80.40" stroke="#444" stroke-width="0.7"/>
<text x="90.80" y="83.80" font-size="9.6" textLength="7.9" lengthAdjust="spacingAndGlyphs" fill="#1a1a1a" stroke="#1a1a1a" stroke-width="0.15">10</text>
<text x="95.03" y="78.06" font-size="5.86" fill="#1a1a1a" stroke="#1a1a1a" stroke-width="0.64">−</text>
<text x="99.90" y="78.40" font-size="7.6" font-weight="bold" textLength="3.5" lengthAdjust="spacingAndGlyphs" fill="#222">7</text>
<line x1="103.9" y1="98.00" x2="105.7" y2="98.00" stroke="#444" stroke-width="0.7"/>
<text x="90.80" y="101.40" font-size="9.6" textLength="7.9" lengthAdjust="spacingAndGlyphs" fill="#1a1a1a" stroke="#1a1a1a" stroke-width="0.15">10</text>
<text x="95.03" y="95.66" font-size="5.86" fill="#1a1a1a" stroke="#1a1a1a" stroke-width="0.64">−</text>
<text x="99.90" y="96.00" font-size="7.6" font-weight="bold" textLength="3.5" lengthAdjust="spacingAndGlyphs" fill="#222">8</text>
<line x1="103.9" y1="115.60" x2="105.7" y2="115.60" stroke="#444" stroke-width="0.7"/>
<text x="90.80" y="119.00" font-size="9.6" textLength="7.9" lengthAdjust="spacingAndGlyphs" fill="#1a1a1a" stroke="#1a1a1a" stroke-width="0.15">10</text>
<text x="95.03" y="113.26" font-size="5.86" fill="#1a1a1a" stroke="#1a1a1a" stroke-width="0.64">−</text>
<text x="99.90" y="113.60" font-size="7.6" font-weight="bold" textLength="3.5" lengthAdjust="spacingAndGlyphs" fill="#222">9</text>
<line x1="103.9" y1="133.20" x2="105.7" y2="133.20" stroke="#444" stroke-width="0.7"/>
<text x="87.50" y="136.60" font-size="9.6" textLength="7.9" lengthAdjust="spacingAndGlyphs" fill="#1a1a1a" stroke="#1a1a1a" stroke-width="0.15">10</text>
<text x="91.73" y="130.86" font-size="5.86" fill="#1a1a1a" stroke="#1a1a1a" stroke-width="0.64">−</text>
<text x="95.90" y="131.20" font-size="7.6" font-weight="bold" textLength="7.6" lengthAdjust="spacingAndGlyphs" fill="#222">10</text>
<line x1="103.9" y1="150.80" x2="105.7" y2="150.80" stroke="#444" stroke-width="0.7"/>
<text x="87.50" y="154.20" font-size="9.6" textLength="7.9" lengthAdjust="spacingAndGlyphs" fill="#1a1a1a" stroke="#1a1a1a" stroke-width="0.15">10</text>
<text x="91.73" y="148.46" font-size="5.86" fill="#1a1a1a" stroke="#1a1a1a" stroke-width="0.64">−</text>
<text x="95.90" y="148.80" font-size="7.6" font-weight="bold" textLength="7.6" lengthAdjust="spacingAndGlyphs" fill="#222">11</text>
<line x1="105.70" y1="150.8" x2="105.70" y2="152.60000000000002" stroke="#444" stroke-width="0.7"/>
<line x1="127.53" y1="150.8" x2="127.53" y2="151.9" stroke="#444" stroke-width="0.7"/>
<line x1="149.35" y1="150.8" x2="149.35" y2="152.60000000000002" stroke="#444" stroke-width="0.7"/>
<line x1="171.18" y1="150.8" x2="171.18" y2="151.9" stroke="#444" stroke-width="0.7"/>
<line x1="193.00" y1="150.8" x2="193.00" y2="152.60000000000002" stroke="#444" stroke-width="0.7"/>
<text x="113.90" y="159.80" font-size="8.2" text-anchor="end" fill="#222">0.05</text>
<text x="91.13" y="161.21" font-size="10.77" fill="#222" stroke="#222" stroke-width="0.55">−</text>
<text x="149.85" y="159.80" font-size="8.2" text-anchor="middle" fill="#222">0.00</text>
<text x="194.00" y="159.80" font-size="8.2" text-anchor="middle" fill="#222">0.05</text>
<line x1="106.0" y1="141.70" x2="192.7" y2="119.20" stroke="#f05a5a" stroke-width="0.9"/>
<line x1="106.0" y1="136.70" x2="192.7" y2="115.50" stroke="#3c3c3c" stroke-width="0.9"/>
<line x1="106.0" y1="119.20" x2="192.7" y2="104.20" stroke="#3a97f0" stroke-width="0.9"/>
<rect x="43.2" y="5.1" width="71.6" height="32.6" fill="#fff" stroke="#3a3a3a" stroke-width="0.7"/>
<line x1="45.10" y1="11.30" x2="63.10" y2="11.30" stroke="#8a8a8a" stroke-width="0.8"/>
<rect x="51.50" y="8.70" width="5.2" height="5.2" fill="#464646"/>
<text x="66.20" y="14.20" font-size="8.2" font-weight="bold" fill="#2c2c2c" textLength="26.2" lengthAdjust="spacingAndGlyphs">FinFET</text>
<line x1="45.10" y1="21.50" x2="63.10" y2="21.50" stroke="#f59a9a" stroke-width="0.8"/>
<circle cx="54.10" cy="21.50" r="2.8" fill="#f5282d"/>
<text x="66.20" y="24.40" font-size="8.2" font-weight="bold" fill="#2c2c2c" textLength="47.2" lengthAdjust="spacingAndGlyphs">GAA-FinFET</text>
<line x1="45.10" y1="31.70" x2="63.10" y2="31.70" stroke="#3f9cf2" stroke-width="0.8"/>
<path d="M50.80 34.30 L57.40 34.30 L54.10 28.40 Z" fill="#126fe3"/>
<text x="66.20" y="34.60" font-size="8.2" font-weight="bold" fill="#2c2c2c" textLength="26.4" lengthAdjust="spacingAndGlyphs">NSFET</text>
<text x="4.5" y="24.0" font-size="23.3" textLength="29.6" lengthAdjust="spacingAndGlyphs" font-family='"Liberation Sans", sans-serif' fill="#0a0a0a">(b)</text>
<text x="-11.30" y="-1.10" font-size="8.4" textLength="5.7" lengthAdjust="spacingAndGlyphs">0</text>
<text x="-11.60" y="4.20" font-size="12.1" textLength="12.3" lengthAdjust="spacingAndGlyphs" text-anchor="end" stroke="#111" stroke-width="0.3">10</text>
<text x="-9.60" y="29.12" font-size="8.9" font-weight="bold" textLength="5.80" lengthAdjust="spacingAndGlyphs">3</text>
<text x="-15.52" y="28.43" font-size="8.75" fill="#111" stroke="#111" stroke-width="0.64">−</text>
<text x="-13.30" y="37.72" font-size="12.1" textLength="12.3" lengthAdjust="spacingAndGlyphs" text-anchor="end" stroke="#111" stroke-width="0.3">10</text>
<text x="-9.60" y="62.64" font-size="8.9" font-weight="bold" textLength="5.80" lengthAdjust="spacingAndGlyphs">6</text>
<text x="-15.52" y="61.95" font-size="8.75" fill="#111" stroke="#111" stroke-width="0.64">−</text>
<text x="-13.30" y="71.24" font-size="12.1" textLength="12.3" lengthAdjust="spacingAndGlyphs" text-anchor="end" stroke="#111" stroke-width="0.3">10</text>
<text x="-9.60" y="96.16" font-size="8.9" font-weight="bold" textLength="5.80" lengthAdjust="spacingAndGlyphs">9</text>
<text x="-15.52" y="95.47" font-size="8.75" fill="#111" stroke="#111" stroke-width="0.64">−</text>
<text x="-13.30" y="104.76" font-size="12.1" textLength="12.3" lengthAdjust="spacingAndGlyphs" text-anchor="end" stroke="#111" stroke-width="0.3">10</text>
<text x="-15.00" y="129.68" font-size="8.9" font-weight="bold" textLength="11.20" lengthAdjust="spacingAndGlyphs">12</text>
<text x="-20.92" y="128.99" font-size="8.75" fill="#111" stroke="#111" stroke-width="0.64">−</text>
<text x="-18.70" y="138.28" font-size="12.1" textLength="12.3" lengthAdjust="spacingAndGlyphs" text-anchor="end" stroke="#111" stroke-width="0.3">10</text>
<text x="-15.00" y="163.20" font-size="8.9" font-weight="bold" textLength="11.20" lengthAdjust="spacingAndGlyphs">15</text>
<text x="-20.92" y="162.51" font-size="8.75" fill="#111" stroke="#111" stroke-width="0.64">−</text>
<text x="-18.70" y="171.80" font-size="12.1" textLength="12.3" lengthAdjust="spacingAndGlyphs" text-anchor="end" stroke="#111" stroke-width="0.3">10</text>
<text x="10.40" y="182.50" font-size="12.3" text-anchor="end" stroke="#111" stroke-width="0.25">0.2</text>
<text x="-18.29" y="184.44" font-size="17.73" fill="#111">−</text>
<text x="41.20" y="182.50" font-size="12.3" text-anchor="middle" stroke="#111" stroke-width="0.25">0.0</text>
<text x="82.40" y="182.50" font-size="12.3" text-anchor="middle" stroke="#111" stroke-width="0.25">0.2</text>
<text x="123.60" y="182.50" font-size="12.3" text-anchor="middle" stroke="#111" stroke-width="0.25">0.4</text>
<text x="164.80" y="182.50" font-size="12.3" text-anchor="middle" stroke="#111" stroke-width="0.25">0.6</text>
<text x="206.00" y="182.50" font-size="12.3" text-anchor="middle" stroke="#111" stroke-width="0.25">0.8</text>
<text x="74.2" y="207.20" stroke="#111" stroke-width="0.3" font-size="16.4" textLength="11.2" lengthAdjust="spacingAndGlyphs">V</text>
<text x="85.2" y="211.40" stroke="#111" stroke-width="0.3" font-size="11" textLength="17.9" lengthAdjust="spacingAndGlyphs">GS</text>
<text x="108.8" y="207.20" stroke="#111" stroke-width="0.3" font-size="16.4" textLength="22.8" lengthAdjust="spacingAndGlyphs">(V)</text>
<g transform="translate(-41.4,117.7) rotate(-90) scale(0.975)" stroke="#111" stroke-width="0.3"><text x="0" y="0" font-size="17" textLength="4.4" lengthAdjust="spacingAndGlyphs">I</text><text x="5.4" y="3.6" font-size="10.6" textLength="6.6" lengthAdjust="spacingAndGlyphs">d</text><text x="12.4" y="0" font-size="17" textLength="54.6" lengthAdjust="spacingAndGlyphs">(A/um)</text></g>
</g>
<g transform="translate(186.8,248.5) scale(1.043)" font-family='"Liberation Sans", sans-serif' fill="#111">
<line x1="-2.7" y1="0.00" x2="0" y2="0.00" stroke="#222" stroke-width="1.05"/>
<line x1="-1.7" y1="2.23" x2="0" y2="2.23" stroke="#333" stroke-width="0.8"/>
<line x1="-1.7" y1="4.47" x2="0" y2="4.47" stroke="#333" stroke-width="0.8"/>
<line x1="-1.7" y1="6.70" x2="0" y2="6.70" stroke="#333" stroke-width="0.8"/>
<line x1="-1.7" y1="8.94" x2="0" y2="8.94" stroke="#333" stroke-width="0.8"/>
<line x1="-2.7" y1="11.17" x2="0" y2="11.17" stroke="#222" stroke-width="1.05"/>
<line x1="-1.7" y1="13.41" x2="0" y2="13.41" stroke="#333" stroke-width="0.8"/>
<line x1="-1.7" y1="15.64" x2="0" y2="15.64" stroke="#333" stroke-width="0.8"/>
<line x1="-1.7" y1="17.88" x2="0" y2="17.88" stroke="#333" stroke-width="0.8"/>
<line x1="-1.7" y1="20.11" x2="0" y2="20.11" stroke="#333" stroke-width="0.8"/>
<line x1="-2.7" y1="22.35" x2="0" y2="22.35" stroke="#222" stroke-width="1.05"/>
<line x1="-1.7" y1="24.58" x2="0" y2="24.58" stroke="#333" stroke-width="0.8"/>
<line x1="-1.7" y1="26.82" x2="0" y2="26.82" stroke="#333" stroke-width="0.8"/>
<line x1="-1.7" y1="29.05" x2="0" y2="29.05" stroke="#333" stroke-width="0.8"/>
<line x1="-1.7" y1="31.29" x2="0" y2="31.29" stroke="#333" stroke-width="0.8"/>
<line x1="-2.7" y1="33.52" x2="0" y2="33.52" stroke="#222" stroke-width="1.05"/>
<line x1="-1.7" y1="35.75" x2="0" y2="35.75" stroke="#333" stroke-width="0.8"/>
<line x1="-1.7" y1="37.99" x2="0" y2="37.99" stroke="#333" stroke-width="0.8"/>
<line x1="-1.7" y1="40.22" x2="0" y2="40.22" stroke="#333" stroke-width="0.8"/>
<line x1="-1.7" y1="42.46" x2="0" y2="42.46" stroke="#333" stroke-width="0.8"/>
<line x1="-2.7" y1="44.69" x2="0" y2="44.69" stroke="#222" stroke-width="1.05"/>
<line x1="-1.7" y1="46.93" x2="0" y2="46.93" stroke="#333" stroke-width="0.8"/>
<line x1="-1.7" y1="49.16" x2="0" y2="49.16" stroke="#333" stroke-width="0.8"/>
<line x1="-1.7" y1="51.40" x2="0" y2="51.40" stroke="#333" stroke-width="0.8"/>
<line x1="-1.7" y1="53.63" x2="0" y2="53.63" stroke="#333" stroke-width="0.8"/>
<line x1="-2.7" y1="55.87" x2="0" y2="55.87" stroke="#222" stroke-width="1.05"/>
<line x1="-1.7" y1="58.10" x2="0" y2="58.10" stroke="#333" stroke-width="0.8"/>
<line x1="-1.7" y1="60.34" x2="0" y2="60.34" stroke="#333" stroke-width="0.8"/>
<line x1="-1.7" y1="62.57" x2="0" y2="62.57" stroke="#333" stroke-width="0.8"/>
<line x1="-1.7" y1="64.81" x2="0" y2="64.81" stroke="#333" stroke-width="0.8"/>
<line x1="-2.7" y1="67.04" x2="0" y2="67.04" stroke="#222" stroke-width="1.05"/>
<line x1="-1.7" y1="69.27" x2="0" y2="69.27" stroke="#333" stroke-width="0.8"/>
<line x1="-1.7" y1="71.51" x2="0" y2="71.51" stroke="#333" stroke-width="0.8"/>
<line x1="-1.7" y1="73.74" x2="0" y2="73.74" stroke="#333" stroke-width="0.8"/>
<line x1="-1.7" y1="75.98" x2="0" y2="75.98" stroke="#333" stroke-width="0.8"/>
<line x1="-2.7" y1="78.21" x2="0" y2="78.21" stroke="#222" stroke-width="1.05"/>
<line x1="-1.7" y1="80.45" x2="0" y2="80.45" stroke="#333" stroke-width="0.8"/>
<line x1="-1.7" y1="82.68" x2="0" y2="82.68" stroke="#333" stroke-width="0.8"/>
<line x1="-1.7" y1="84.92" x2="0" y2="84.92" stroke="#333" stroke-width="0.8"/>
<line x1="-1.7" y1="87.15" x2="0" y2="87.15" stroke="#333" stroke-width="0.8"/>
<line x1="-2.7" y1="89.39" x2="0" y2="89.39" stroke="#222" stroke-width="1.05"/>
<line x1="-1.7" y1="91.62" x2="0" y2="91.62" stroke="#333" stroke-width="0.8"/>
<line x1="-1.7" y1="93.86" x2="0" y2="93.86" stroke="#333" stroke-width="0.8"/>
<line x1="-1.7" y1="96.09" x2="0" y2="96.09" stroke="#333" stroke-width="0.8"/>
<line x1="-1.7" y1="98.33" x2="0" y2="98.33" stroke="#333" stroke-width="0.8"/>
<line x1="-2.7" y1="100.56" x2="0" y2="100.56" stroke="#222" stroke-width="1.05"/>
<line x1="-1.7" y1="102.79" x2="0" y2="102.79" stroke="#333" stroke-width="0.8"/>
<line x1="-1.7" y1="105.03" x2="0" y2="105.03" stroke="#333" stroke-width="0.8"/>
<line x1="-1.7" y1="107.26" x2="0" y2="107.26" stroke="#333" stroke-width="0.8"/>
<line x1="-1.7" y1="109.50" x2="0" y2="109.50" stroke="#333" stroke-width="0.8"/>
<line x1="-2.7" y1="111.73" x2="0" y2="111.73" stroke="#222" stroke-width="1.05"/>
<line x1="-1.7" y1="113.97" x2="0" y2="113.97" stroke="#333" stroke-width="0.8"/>
<line x1="-1.7" y1="116.20" x2="0" y2="116.20" stroke="#333" stroke-width="0.8"/>
<line x1="-1.7" y1="118.44" x2="0" y2="118.44" stroke="#333" stroke-width="0.8"/>
<line x1="-1.7" y1="120.67" x2="0" y2="120.67" stroke="#333" stroke-width="0.8"/>
<line x1="-2.7" y1="122.91" x2="0" y2="122.91" stroke="#222" stroke-width="1.05"/>
<line x1="-1.7" y1="125.14" x2="0" y2="125.14" stroke="#333" stroke-width="0.8"/>
<line x1="-1.7" y1="127.38" x2="0" y2="127.38" stroke="#333" stroke-width="0.8"/>
<line x1="-1.7" y1="129.61" x2="0" y2="129.61" stroke="#333" stroke-width="0.8"/>
<line x1="-1.7" y1="131.85" x2="0" y2="131.85" stroke="#333" stroke-width="0.8"/>
<line x1="-2.7" y1="134.08" x2="0" y2="134.08" stroke="#222" stroke-width="1.05"/>
<line x1="-1.7" y1="136.31" x2="0" y2="136.31" stroke="#333" stroke-width="0.8"/>
<line x1="-1.7" y1="138.55" x2="0" y2="138.55" stroke="#333" stroke-width="0.8"/>
<line x1="-1.7" y1="140.78" x2="0" y2="140.78" stroke="#333" stroke-width="0.8"/>
<line x1="-1.7" y1="143.02" x2="0" y2="143.02" stroke="#333" stroke-width="0.8"/>
<line x1="-2.7" y1="145.25" x2="0" y2="145.25" stroke="#222" stroke-width="1.05"/>
<line x1="-1.7" y1="147.49" x2="0" y2="147.49" stroke="#333" stroke-width="0.8"/>
<line x1="-1.7" y1="149.72" x2="0" y2="149.72" stroke="#333" stroke-width="0.8"/>
<line x1="-1.7" y1="151.96" x2="0" y2="151.96" stroke="#333" stroke-width="0.8"/>
<line x1="-1.7" y1="154.19" x2="0" y2="154.19" stroke="#333" stroke-width="0.8"/>
<line x1="-2.7" y1="156.43" x2="0" y2="156.43" stroke="#222" stroke-width="1.05"/>
<line x1="-1.7" y1="158.66" x2="0" y2="158.66" stroke="#333" stroke-width="0.8"/>
<line x1="-1.7" y1="160.90" x2="0" y2="160.90" stroke="#333" stroke-width="0.8"/>
<line x1="-1.7" y1="163.13" x2="0" y2="163.13" stroke="#333" stroke-width="0.8"/>
<line x1="-1.7" y1="165.37" x2="0" y2="165.37" stroke="#333" stroke-width="0.8"/>
<line x1="-2.7" y1="167.60" x2="0" y2="167.60" stroke="#222" stroke-width="1.05"/>
<line x1="0.00" y1="167.6" x2="0.00" y2="170.2" stroke="#333" stroke-width="0.9"/>
<line x1="20.60" y1="167.6" x2="20.60" y2="169.2" stroke="#333" stroke-width="0.9"/>
<line x1="41.20" y1="167.6" x2="41.20" y2="170.2" stroke="#333" stroke-width="0.9"/>
<line x1="61.80" y1="167.6" x2="61.80" y2="169.2" stroke="#333" stroke-width="0.9"/>
<line x1="82.40" y1="167.6" x2="82.40" y2="170.2" stroke="#333" stroke-width="0.9"/>
<line x1="103.00" y1="167.6" x2="103.00" y2="169.2" stroke="#333" stroke-width="0.9"/>
<line x1="123.60" y1="167.6" x2="123.60" y2="170.2" stroke="#333" stroke-width="0.9"/>
<line x1="144.20" y1="167.6" x2="144.20" y2="169.2" stroke="#333" stroke-width="0.9"/>
<line x1="164.80" y1="167.6" x2="164.80" y2="170.2" stroke="#333" stroke-width="0.9"/>
<line x1="185.40" y1="167.6" x2="185.40" y2="169.2" stroke="#333" stroke-width="0.9"/>
<line x1="206.00" y1="167.6" x2="206.00" y2="170.2" stroke="#333" stroke-width="0.9"/>
<path d="M0 0 H206.0 V167.6" fill="none" stroke="#5a5a5a" stroke-width="0.8"/>
<path d="M0 -0.4 V168.1" fill="none" stroke="#222" stroke-width="1.4"/>
<path d="M-0.7 167.6 H206.4" fill="none" stroke="#333" stroke-width="1.0"/>
<path d="M0.00 120.50 C0.84 120.19 3.35 119.29 5.02 118.67 C6.70 118.04 8.37 117.40 10.05 116.75 C11.72 116.09 13.39 115.42 15.07 114.72 C16.74 114.03 18.42 113.32 20.09 112.59 C21.77 111.86 23.44 111.12 25.12 110.35 C26.79 109.58 28.46 108.79 30.14 107.98 C31.81 107.17 33.49 106.33 35.16 105.48 C36.84 104.62 38.51 103.74 40.18 102.84 C41.86 101.94 43.53 101.01 45.21 100.06 C46.88 99.11 48.56 98.13 50.23 97.12 C51.90 96.11 53.58 95.07 55.25 94.00 C56.93 92.92 58.60 91.82 60.28 90.67 C61.95 89.53 63.63 88.35 65.30 87.14 C66.97 85.92 68.65 84.67 70.32 83.41 C72.00 82.14 73.67 80.85 75.35 79.55 C77.02 78.26 78.69 76.94 80.37 75.63 C82.04 74.33 83.72 73.01 85.39 71.72 C87.07 70.42 88.74 69.13 90.41 67.86 C92.09 66.60 93.76 65.35 95.44 64.14 C97.11 62.93 98.79 61.75 100.46 60.61 C102.14 59.48 103.81 58.39 105.48 57.34 C107.16 56.30 108.83 55.31 110.51 54.37 C112.18 53.43 113.86 52.54 115.53 51.71 C117.20 50.87 118.88 50.10 120.55 49.36 C122.23 48.62 123.90 47.94 125.58 47.29 C127.25 46.65 128.92 46.05 130.60 45.49 C132.27 44.93 133.95 44.41 135.62 43.93 C137.30 43.45 138.97 43.00 140.64 42.59 C142.32 42.17 143.99 41.80 145.67 41.44 C147.34 41.09 149.02 40.77 150.69 40.47 C152.37 40.18 154.04 39.91 155.71 39.66 C157.39 39.41 159.06 39.18 160.74 38.97 C162.41 38.76 164.09 38.57 165.76 38.39 C167.43 38.21 169.11 38.06 170.78 37.90 C172.46 37.75 174.13 37.61 175.81 37.48 C177.48 37.34 179.15 37.22 180.83 37.10 C182.50 36.97 184.18 36.85 185.85 36.73 C187.53 36.61 189.20 36.50 190.88 36.37 C192.55 36.25 194.22 36.12 195.90 35.99 C197.57 35.85 199.25 35.71 200.92 35.56 C202.60 35.40 205.11 35.14 205.94 35.06" fill="none" stroke="#141414" stroke-width="1.95" stroke-linecap="butt"/>
<path d="M0.00 122.32 C0.84 122.07 3.35 121.33 5.02 120.80 C6.70 120.27 8.37 119.72 10.05 119.13 C11.72 118.55 13.39 117.95 15.07 117.31 C16.74 116.68 18.42 116.02 20.09 115.33 C21.77 114.65 23.44 113.93 25.12 113.19 C26.79 112.45 28.46 111.68 30.14 110.88 C31.81 110.08 33.49 109.25 35.16 108.39 C36.84 107.53 38.51 106.65 40.18 105.73 C41.86 104.81 43.53 103.86 45.21 102.88 C46.88 101.90 48.56 100.88 50.23 99.84 C51.90 98.79 53.58 97.72 55.25 96.60 C56.93 95.49 58.60 94.35 60.28 93.17 C61.95 91.99 63.63 90.78 65.30 89.53 C66.97 88.28 68.65 86.99 70.32 85.68 C72.00 84.37 73.67 83.02 75.35 81.66 C77.02 80.31 78.69 78.92 80.37 77.55 C82.04 76.18 83.72 74.80 85.39 73.44 C87.07 72.09 88.74 70.73 90.41 69.41 C92.09 68.09 93.76 66.79 95.44 65.54 C97.11 64.29 98.79 63.08 100.46 61.92 C102.14 60.76 103.81 59.66 105.48 58.60 C107.16 57.55 108.83 56.55 110.51 55.59 C112.18 54.64 113.86 53.73 115.53 52.87 C117.20 52.01 118.88 51.20 120.55 50.42 C122.23 49.65 123.90 48.92 125.58 48.23 C127.25 47.54 128.92 46.90 130.60 46.29 C132.27 45.67 133.95 45.10 135.62 44.56 C137.30 44.02 138.97 43.52 140.64 43.05 C142.32 42.58 143.99 42.14 145.67 41.74 C147.34 41.33 149.02 40.95 150.69 40.60 C152.37 40.25 154.04 39.92 155.71 39.62 C157.39 39.32 159.06 39.05 160.74 38.80 C162.41 38.54 164.09 38.31 165.76 38.10 C167.43 37.89 169.11 37.70 170.78 37.52 C172.46 37.34 174.13 37.19 175.81 37.04 C177.48 36.90 179.15 36.77 180.83 36.65 C182.50 36.53 184.18 36.42 185.85 36.32 C187.53 36.22 189.20 36.14 190.88 36.05 C192.55 35.97 194.22 35.89 195.90 35.82 C197.57 35.74 199.25 35.67 200.92 35.60 C202.60 35.53 205.11 35.43 205.94 35.40" fill="none" stroke="#f01f24" stroke-width="1.75" stroke-linecap="butt"/>
<path d="M0.00 103.18 C0.84 102.90 3.35 102.07 5.02 101.52 C6.70 100.97 8.37 100.43 10.05 99.88 C11.72 99.34 13.39 98.80 15.07 98.26 C16.74 97.71 18.42 97.17 20.09 96.63 C21.77 96.08 23.44 95.53 25.12 94.97 C26.79 94.41 28.46 93.85 30.14 93.27 C31.81 92.70 33.49 92.12 35.16 91.52 C36.84 90.92 38.51 90.32 40.18 89.69 C41.86 89.07 43.53 88.43 45.21 87.77 C46.88 87.11 48.56 86.44 50.23 85.74 C51.90 85.04 53.58 84.32 55.25 83.58 C56.93 82.83 58.60 82.07 60.28 81.27 C61.95 80.48 63.63 79.66 65.30 78.81 C66.97 77.96 68.65 77.07 70.32 76.17 C72.00 75.27 73.67 74.33 75.35 73.39 C77.02 72.44 78.69 71.47 80.37 70.50 C82.04 69.53 83.72 68.54 85.39 67.56 C87.07 66.58 88.74 65.59 90.41 64.61 C92.09 63.63 93.76 62.65 95.44 61.70 C97.11 60.74 98.79 59.79 100.46 58.87 C102.14 57.95 103.81 57.04 105.48 56.18 C107.16 55.31 108.83 54.46 110.51 53.66 C112.18 52.85 113.86 52.08 115.53 51.35 C117.20 50.62 118.88 49.92 120.55 49.26 C122.23 48.59 123.90 47.96 125.58 47.36 C127.25 46.76 128.92 46.20 130.60 45.66 C132.27 45.12 133.95 44.62 135.62 44.14 C137.30 43.66 138.97 43.21 140.64 42.78 C142.32 42.35 143.99 41.96 145.67 41.58 C147.34 41.21 149.02 40.86 150.69 40.53 C152.37 40.20 154.04 39.89 155.71 39.61 C157.39 39.32 159.06 39.06 160.74 38.81 C162.41 38.57 164.09 38.34 165.76 38.13 C167.43 37.92 169.11 37.73 170.78 37.55 C172.46 37.37 174.13 37.21 175.81 37.06 C177.48 36.91 179.15 36.78 180.83 36.65 C182.50 36.52 184.18 36.41 185.85 36.31 C187.53 36.20 189.20 36.11 190.88 36.02 C192.55 35.93 194.22 35.86 195.90 35.78 C197.57 35.71 199.25 35.64 200.92 35.58 C202.60 35.52 205.11 35.43 205.94 35.40" fill="none" stroke="#0f6fe6" stroke-width="1.75" stroke-linecap="butt"/>
<rect x="30.9" y="79.4" width="20.9" height="41.4" fill="none" stroke="#0a0a0a" stroke-width="1.3" stroke-dasharray="6 5.25" stroke-dashoffset="0"/>
<path d="M59.0 105.8 H69.3 V101.1 L79.4 111.0 L69.3 120.9 V116.2 H59.0 Z" fill="#2492d1" stroke="#1c7fba" stroke-width="0.7"/>
<rect x="106.1" y="81.2" width="87.10" height="69.60" fill="#fff" stroke="#4a4a4a" stroke-width="0.8"/>
<line x1="104.3" y1="81.20" x2="106.1" y2="81.20" stroke="#444" stroke-width="0.7"/>
<text x="91.20" y="84.60" font-size="9.6" textLength="7.9" lengthAdjust="spacingAndGlyphs" fill="#1a1a1a" stroke="#1a1a1a" stroke-width="0.15">10</text>
<text x="95.43" y="78.86" font-size="5.86" fill="#1a1a1a" stroke="#1a1a1a" stroke-width="0.64">−</text>
<text x="100.30" y="79.20" font-size="7.6" font-weight="bold" textLength="3.5" lengthAdjust="spacingAndGlyphs" fill="#222">7</text>
<line x1="104.3" y1="98.60" x2="106.1" y2="98.60" stroke="#444" stroke-width="0.7"/>
<text x="91.20" y="102.00" font-size="9.6" textLength="7.9" lengthAdjust="spacingAndGlyphs" fill="#1a1a1a" stroke="#1a1a1a" stroke-width="0.15">10</text>
<text x="95.43" y="96.26" font-size="5.86" fill="#1a1a1a" stroke="#1a1a1a" stroke-width="0.64">−</text>
<text x="100.30" y="96.60" font-size="7.6" font-weight="bold" textLength="3.5" lengthAdjust="spacingAndGlyphs" fill="#222">8</text>
<line x1="104.3" y1="116.00" x2="106.1" y2="116.00" stroke="#444" stroke-width="0.7"/>
<text x="91.20" y="119.40" font-size="9.6" textLength="7.9" lengthAdjust="spacingAndGlyphs" fill="#1a1a1a" stroke="#1a1a1a" stroke-width="0.15">10</text>
<text x="95.43" y="113.66" font-size="5.86" fill="#1a1a1a" stroke="#1a1a1a" stroke-width="0.64">−</text>
<text x="100.30" y="114.00" font-size="7.6" font-weight="bold" textLength="3.5" lengthAdjust="spacingAndGlyphs" fill="#222">9</text>
<line x1="104.3" y1="133.40" x2="106.1" y2="133.40" stroke="#444" stroke-width="0.7"/>
<text x="87.90" y="136.80" font-size="9.6" textLength="7.9" lengthAdjust="spacingAndGlyphs" fill="#1a1a1a" stroke="#1a1a1a" stroke-width="0.15">10</text>
<text x="92.13" y="131.06" font-size="5.86" fill="#1a1a1a" stroke="#1a1a1a" stroke-width="0.64">−</text>
<text x="96.30" y="131.40" font-size="7.6" font-weight="bold" textLength="7.6" lengthAdjust="spacingAndGlyphs" fill="#222">10</text>
<line x1="104.3" y1="150.80" x2="106.1" y2="150.80" stroke="#444" stroke-width="0.7"/>
<text x="87.90" y="154.20" font-size="9.6" textLength="7.9" lengthAdjust="spacingAndGlyphs" fill="#1a1a1a" stroke="#1a1a1a" stroke-width="0.15">10</text>
<text x="92.13" y="148.46" font-size="5.86" fill="#1a1a1a" stroke="#1a1a1a" stroke-width="0.64">−</text>
<text x="96.30" y="148.80" font-size="7.6" font-weight="bold" textLength="7.6" lengthAdjust="spacingAndGlyphs" fill="#222">11</text>
<line x1="106.10" y1="150.8" x2="106.10" y2="152.60000000000002" stroke="#444" stroke-width="0.7"/>
<line x1="127.88" y1="150.8" x2="127.88" y2="151.9" stroke="#444" stroke-width="0.7"/>
<line x1="149.65" y1="150.8" x2="149.65" y2="152.60000000000002" stroke="#444" stroke-width="0.7"/>
<line x1="171.42" y1="150.8" x2="171.42" y2="151.9" stroke="#444" stroke-width="0.7"/>
<line x1="193.20" y1="150.8" x2="193.20" y2="152.60000000000002" stroke="#444" stroke-width="0.7"/>
<text x="114.30" y="159.80" font-size="8.2" text-anchor="end" fill="#222">0.05</text>
<text x="91.53" y="161.21" font-size="10.77" fill="#222" stroke="#222" stroke-width="0.55">−</text>
<text x="150.15" y="159.80" font-size="8.2" text-anchor="middle" fill="#222">0.00</text>
<text x="194.20" y="159.80" font-size="8.2" text-anchor="middle" fill="#222">0.05</text>
<line x1="106.39999999999999" y1="130.90" x2="192.89999999999998" y2="113.06" stroke="#f05a5a" stroke-width="0.9"/>
<line x1="106.39999999999999" y1="126.97" x2="192.89999999999998" y2="109.42" stroke="#3c3c3c" stroke-width="0.9"/>
<line x1="106.39999999999999" y1="103.76" x2="192.89999999999998" y2="91.11" stroke="#3a97f0" stroke-width="0.9"/>
<rect x="48.4" y="5.2" width="71.4" height="32.6" fill="#fff" stroke="#3a3a3a" stroke-width="0.7"/>
<line x1="50.30" y1="11.40" x2="69.10" y2="11.40" stroke="#8a8a8a" stroke-width="0.8"/>
<rect x="57.10" y="8.80" width="5.2" height="5.2" fill="#464646"/>
<text x="71.10" y="14.30" font-size="8.2" font-weight="bold" fill="#2c2c2c" textLength="26.2" lengthAdjust="spacingAndGlyphs">FinFET</text>
<line x1="50.30" y1="21.60" x2="69.10" y2="21.60" stroke="#f59a9a" stroke-width="0.8"/>
<circle cx="59.70" cy="21.60" r="2.8" fill="#f5282d"/>
<text x="71.10" y="24.50" font-size="8.2" font-weight="bold" fill="#2c2c2c" textLength="47.2" lengthAdjust="spacingAndGlyphs">GAA-FinFET</text>
<line x1="50.30" y1="31.80" x2="69.10" y2="31.80" stroke="#3f9cf2" stroke-width="0.8"/>
<path d="M56.40 34.40 L63.00 34.40 L59.70 28.50 Z" fill="#126fe3"/>
<text x="71.10" y="34.70" font-size="8.2" font-weight="bold" fill="#2c2c2c" textLength="26.4" lengthAdjust="spacingAndGlyphs">NSFET</text>
<text x="9.1" y="27.8" font-size="23.3" textLength="28.6" lengthAdjust="spacingAndGlyphs" font-family='"Liberation Sans", sans-serif' fill="#0a0a0a">(c)</text>
<text x="-10.90" y="-1.10" font-size="8.4" textLength="5.7" lengthAdjust="spacingAndGlyphs">0</text>
<text x="-11.20" y="4.20" font-size="12.1" textLength="12.3" lengthAdjust="spacingAndGlyphs" text-anchor="end" stroke="#111" stroke-width="0.3">10</text>
<text x="-9.20" y="28.82" font-size="8.9" font-weight="bold" textLength="5.80" lengthAdjust="spacingAndGlyphs">3</text>
<text x="-15.12" y="28.25" font-size="8.75" fill="#111" stroke="#111" stroke-width="0.64">−</text>
<text x="-12.90" y="37.72" font-size="12.1" textLength="12.3" lengthAdjust="spacingAndGlyphs" text-anchor="end" stroke="#111" stroke-width="0.3">10</text>
<text x="-9.20" y="62.34" font-size="8.9" font-weight="bold" textLength="5.80" lengthAdjust="spacingAndGlyphs">6</text>
<text x="-15.12" y="61.77" font-size="8.75" fill="#111" stroke="#111" stroke-width="0.64">−</text>
<text x="-12.90" y="71.24" font-size="12.1" textLength="12.3" lengthAdjust="spacingAndGlyphs" text-anchor="end" stroke="#111" stroke-width="0.3">10</text>
<text x="-9.20" y="95.86" font-size="8.9" font-weight="bold" textLength="5.80" lengthAdjust="spacingAndGlyphs">9</text>
<text x="-15.12" y="95.29" font-size="8.75" fill="#111" stroke="#111" stroke-width="0.64">−</text>
<text x="-12.90" y="104.76" font-size="12.1" textLength="12.3" lengthAdjust="spacingAndGlyphs" text-anchor="end" stroke="#111" stroke-width="0.3">10</text>
<text x="-14.60" y="129.38" font-size="8.9" font-weight="bold" textLength="11.20" lengthAdjust="spacingAndGlyphs">12</text>
<text x="-20.52" y="128.81" font-size="8.75" fill="#111" stroke="#111" stroke-width="0.64">−</text>
<text x="-18.30" y="138.28" font-size="12.1" textLength="12.3" lengthAdjust="spacingAndGlyphs" text-anchor="end" stroke="#111" stroke-width="0.3">10</text>
<text x="-14.60" y="162.90" font-size="8.9" font-weight="bold" textLength="11.20" lengthAdjust="spacingAndGlyphs">15</text>
<text x="-20.52" y="162.33" font-size="8.75" fill="#111" stroke="#111" stroke-width="0.64">−</text>
<text x="-18.30" y="171.80" font-size="12.1" textLength="12.3" lengthAdjust="spacingAndGlyphs" text-anchor="end" stroke="#111" stroke-width="0.3">10</text>
<text x="10.40" y="182.50" font-size="12.3" text-anchor="end" stroke="#111" stroke-width="0.25">0.2</text>
<text x="-18.29" y="184.44" font-size="17.73" fill="#111">−</text>
<text x="41.20" y="182.50" font-size="12.3" text-anchor="middle" stroke="#111" stroke-width="0.25">0.0</text>
<text x="82.40" y="182.50" font-size="12.3" text-anchor="middle" stroke="#111" stroke-width="0.25">0.2</text>
<text x="123.60" y="182.50" font-size="12.3" text-anchor="middle" stroke="#111" stroke-width="0.25">0.4</text>
<text x="164.80" y="182.50" font-size="12.3" text-anchor="middle" stroke="#111" stroke-width="0.25">0.6</text>
<text x="206.00" y="182.50" font-size="12.3" text-anchor="middle" stroke="#111" stroke-width="0.25">0.8</text>
<text x="74.2" y="206.50" stroke="#111" stroke-width="0.3" font-size="16.4" textLength="11.2" lengthAdjust="spacingAndGlyphs">V</text>
<text x="85.2" y="210.70" stroke="#111" stroke-width="0.3" font-size="11" textLength="17.9" lengthAdjust="spacingAndGlyphs">GS</text>
<text x="108.8" y="206.50" stroke="#111" stroke-width="0.3" font-size="16.4" textLength="22.8" lengthAdjust="spacingAndGlyphs">(V)</text>
<g transform="translate(-40.8,115.2) rotate(-90) scale(0.975)" stroke="#111" stroke-width="0.3"><text x="0" y="0" font-size="17" textLength="4.4" lengthAdjust="spacingAndGlyphs">I</text><text x="5.4" y="3.6" font-size="10.6" textLength="6.6" lengthAdjust="spacingAndGlyphs">d</text><text x="12.4" y="0" font-size="17" textLength="54.6" lengthAdjust="spacingAndGlyphs">(A/um)</text></g>
</g>
<rect x="541.4" y="68.9" width="1.2" height="1.2" fill="#b8b8b8"/><rect x="541.4" y="96.2" width="1.2" height="1.2" fill="#b8b8b8"/><rect x="541.4" y="105.7" width="1.2" height="1.2" fill="#b8b8b8"/><rect x="541.4" y="113.30000000000001" width="1.2" height="1.2" fill="#b8b8b8"/><rect x="541.4" y="126.9" width="1.2" height="1.2" fill="#b8b8b8"/><rect x="129.4" y="430.9" width="1.2" height="1.4" fill="#c4c4c4"/><rect x="129.4" y="433.4" width="1.2" height="1.4" fill="#c4c4c4"/><rect x="129.4" y="435.9" width="1.2" height="1.4" fill="#c4c4c4"/>
</svg>
</body></html>
